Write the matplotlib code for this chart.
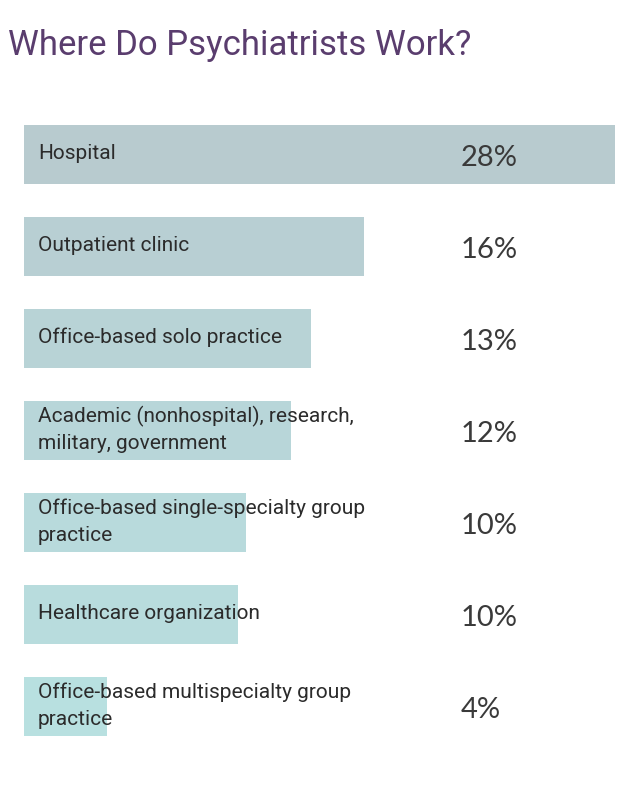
import matplotlib.pyplot as plt

# data
categories = [
    'Hospital',
    'Outpatient clinic',
    'Office-based solo practice',
    'Academic (nonhospital), research,\nmilitary, government',
    'Office-based single-specialty group\npractice',
    'Healthcare organization',
    'Office-based multispecialty group\npractice',
]
bar_values = [28, 16.1, 13.6, 12.65, 10.5, 10.15, 3.95]
pct_labels = ['28%', '16%', '13%', '12%', '10%', '10%', '4%']
bar_colors = ['#b8cbcf', '#b8cfd3', '#b8d3d6', '#b8d6d9', '#b8dadc', '#b8dcdd', '#b8e0e0']

fig = plt.figure(figsize=(6.4, 7.96), dpi=100)
ax = fig.add_axes([24 / 640, 1 - 752.5 / 796, 616 / 640, 644 / 796])

y = list(range(len(categories)))
ax.barh(y, bar_values, height=59 / 92, color=bar_colors, zorder=1)

for i, (cat, pct) in enumerate(zip(categories, pct_labels)):
    ax.text(0.66, i - 0.01, cat, ha='left', va='center', fontsize=15,
            family='Roboto', color='#2b2b2b', linespacing=1.5, zorder=2)
    ax.text(20.7, i + 0.04, pct, ha='left', va='center', fontsize=21,
            family='Lato', color='#3a3a3a', zorder=2)

ax.set_xlim(0, 616 / 21.1)
ax.set_ylim(len(categories) - 0.5, -0.5)
ax.axis('off')

fig.text(8 / 640, 1 - 46 / 796, 'Where Do Psychiatrists Work?', ha='left', va='center',
         fontsize=25, family='Roboto', color='#5a3d6e')

fig.savefig('out.png', dpi=100)
